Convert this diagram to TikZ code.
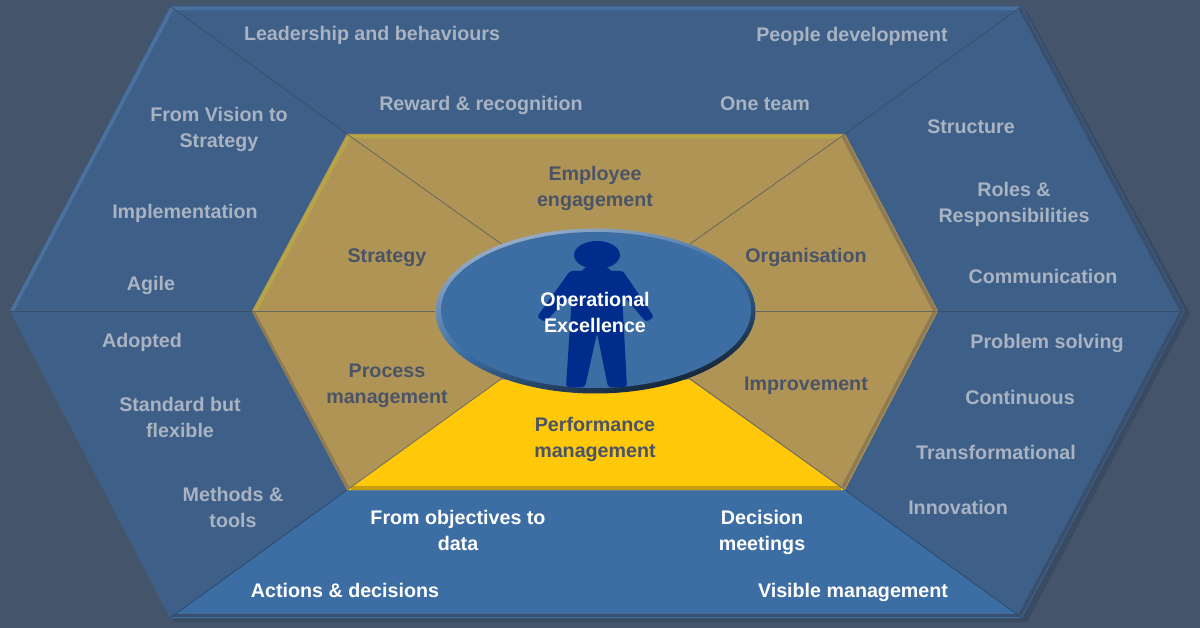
\documentclass[tikz,border=0pt]{standalone}
\usepackage{fontspec}
\setmainfont{Liberation Sans}
\usetikzlibrary{positioning}
\usetikzlibrary{shapes.geometric}
\definecolor{backc}{HTML}{44546A}
\definecolor{shadowc}{HTML}{3A4A60}
\definecolor{outerc}{HTML}{3E5F87}
\definecolor{outerlit}{HTML}{4A70A0}
\definecolor{outerdark}{HTML}{3A4F6E}
\definecolor{bluec}{HTML}{3C6DA3}
\definecolor{tanc}{HTML}{B09455}
\definecolor{tanlit}{HTML}{B5A546}
\definecolor{tandark}{HTML}{8F7B52}
\definecolor{yellowc}{HTML}{FFC90A}
\definecolor{yellowdark}{HTML}{C79C12}
\definecolor{figurec}{HTML}{002D8C}
\definecolor{dimc}{HTML}{A9B3C2}
\definecolor{inkc}{HTML}{4A5468}
\tikzset{
  label/.style={align=center,inner sep=0pt,font=\fontsize{14}{18.5}\selectfont\bfseries},
  dimlabel/.style={label,text=dimc},
  inklabel/.style={label,text=inkc},
  brightlabel/.style={label,text=white},
  spoke/.style={draw=#1,line width=0.6pt}
}
\begin{document}
\begin{tikzpicture}[x=0.025cm,y=-0.025cm]
\useasboundingbox (0,0) rectangle (1200,628);
\fill[backc] (0,0) rectangle (1200,628);
% hexagon corners
\coordinate (OL) at (10,311);
\coordinate (OTL) at (170,6);
\coordinate (OTR) at (1022,6);
\coordinate (OR) at (1185,311);
\coordinate (OBR) at (1022,618);
\coordinate (OBL) at (170,618);
\coordinate (IL) at (252,311);
\coordinate (ITL) at (347,134);
\coordinate (ITR) at (845,134);
\coordinate (IR) at (938,311);
\coordinate (IBR) at (845,490);
\coordinate (IBL) at (347,490);
% outer hexagon
\fill[shadowc] (14,314) -- (174,10) -- (1026,10) -- (1190,313) -- (1027,622) -- (174,622) -- cycle;
\fill[outerc] (OL) -- (OTL) -- (OTR) -- (OR) -- (OBR) -- (OBL) -- cycle;
\draw[outerlit,line width=2.6pt,line join=round] (12,311) -- (172,8.5) -- (1021,8.5);
\draw[outerdark,line width=2.6pt,line join=round] (1020,8) -- (1182,311) -- (1020,615);
\fill[bluec] (OBL) -- (IBL) -- (IBR) -- (OBR) -- cycle;
\draw[outerdark,line width=2pt] (172,615.5) -- (1020,615.5);
% inner hexagon
\fill[tanc] (IL) -- (ITL) -- (ITR) -- (IR) -- (IBR) -- (IBL) -- cycle;
\draw[tanlit,line width=2.6pt,line join=round] (255,311) -- (349,136.5) -- (843,136.5);
\draw[tandark,line width=2.6pt,line join=round] (843,136) -- (935,311) -- (843,487);
\draw[tandark,line width=2pt] (253,311) -- (348,488);
\fill[yellowc] (IBL) -- (IBR) -- (690,380) -- (500,380) -- cycle;
\draw[yellowdark,line width=2.4pt] (351,488) -- (841,488);
% centre
\node[ellipse,minimum width=320*0.025cm,minimum height=165*0.025cm,inner sep=0pt,
  top color=outerlit!55!white,bottom color=black!70!bluec,middle color=bluec,shading angle=18] (Hub) at (595.5,311) {};
\node[ellipse,minimum width=310*0.025cm,minimum height=156*0.025cm,inner sep=0pt,fill=bluec] (HubFace) at (596,310) {};
\fill[figurec,rounded corners=2pt]
  (585,267) -- (608,267) -- (610,271) -- (623,271) -- (654,317) -- (646,322) -- (622,294) -- (627,387) -- (608,387)
  -- (597,333) -- (585,387) -- (566,387) -- (572,294) -- (545,322) -- (537,317) -- (570,271) -- (583,271) -- cycle;
\node[ellipse,fill=figurec,minimum width=46*0.025cm,minimum height=28*0.025cm,inner sep=0pt] (Head) at (597,255) {};
% spokes
\draw[spoke=outerdark]
  (OTL) edge (ITL)
  (OTR) edge (ITR)
  (OL) edge (IL)
  (OR) edge (IR);
\draw[spoke=inkc!70!tanc]
  (ITL) edge (Hub)
  (ITR) edge (Hub)
  (IL) edge (Hub)
  (IR) edge (Hub)
  (IBR) edge (Hub);
\draw[spoke=inkc!60!tanc] (IBL) edge (Hub);
\draw[spoke=bluec!70!black]
  (OBL) edge (IBL)
  (OBR) edge (IBR);
% labels
\node[dimlabel] (Leadership) at (372,35) {Leadership and behaviours};
\node[dimlabel] (People) at (852,36) {People development};
\node[dimlabel] (Reward) at (481,105) {Reward \& recognition};
\node[dimlabel] (OneTeam) at (765,104) {One team};
\node[dimlabel] (Vision) at (219,129) {From Vision to\\Strategy};
\node[dimlabel] (Implementation) at (185,213) {Implementation};
\node[dimlabel] (Agile) at (151,285) {Agile};
\node[dimlabel] (Structure) at (971,127) {Structure};
\node[dimlabel] (Roles) at (1014,204) {Roles \&\\Responsibilities};
\node[dimlabel] (Communication) at (1043,276) {Communication};
\node[dimlabel] (Adopted) at (142,342) {Adopted};
\node[dimlabel] (Standard) at (180,417) {Standard but\\flexible};
\node[dimlabel] (Methods) at (233,507) {Methods \&\\tools};
\node[dimlabel] (Problem) at (1047,343) {Problem solving};
\node[dimlabel] (Continuous) at (1020,397) {Continuous};
\node[dimlabel] (Transformational) at (996,452) {Transformational};
\node[dimlabel] (Innovation) at (958,507) {Innovation};
\node[inklabel] (Employee) at (595,188) {Employee\\engagement};
\node[inklabel] (Strategy) at (387,258) {Strategy};
\node[inklabel] (Organisation) at (806,257) {Organisation};
\node[inklabel] (Process) at (387,386) {Process\\management};
\node[inklabel] (Improvement) at (806,386) {Improvement};
\node[inklabel] (Performance) at (595,439) {Performance\\management};
\node[brightlabel] (Excellence) at (595,312) {Operational\\Excellence};
\node[brightlabel] (Objectives) at (458,530) {From objectives to\\data};
\node[brightlabel] (Decision) at (762,532) {Decision\\meetings};
\node[brightlabel] (Actions) at (345,590) {Actions \& decisions};
\node[brightlabel] (Visible) at (853,592) {Visible management};
\end{tikzpicture}
\end{document}
